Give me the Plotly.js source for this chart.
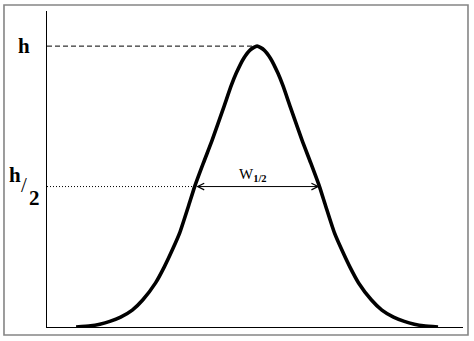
<!DOCTYPE html>
<html>
<head>
<meta charset="utf-8">
<script src="https://cdn.plot.ly/plotly-3.0.1.min.js"></script>
<style>
  html, body { margin: 0; padding: 0; background: #ffffff; }
  #chart { width: 474px; height: 341px; }
</style>
</head>
<body>
<div id="chart"></div>
<script>
// Peak profile (x in arbitrary units, y in units of the peak height h)
const curveX = [0.70, 1.05, 1.27, 1.51, 1.77, 2.05, 2.30, 2.61, 2.82, 3.03, 3.19, 3.40, 3.55, 3.76, 3.97, 4.25, 4.43, 4.55, 4.73, 4.88, 5.05,
                5.22, 5.37, 5.55, 5.67, 5.85, 6.13, 6.34, 6.55, 6.70, 6.91, 7.07, 7.28, 7.49, 7.80, 8.05, 8.33, 8.59, 8.83, 9.05, 9.40];
const curveY = [0.000, 0.004, 0.010, 0.020, 0.035, 0.060, 0.096, 0.157, 0.214, 0.280, 0.335, 0.430, 0.500, 0.584, 0.665, 0.783, 0.860, 0.904, 0.957, 0.986, 1.000,
                0.986, 0.957, 0.904, 0.860, 0.783, 0.665, 0.584, 0.500, 0.430, 0.335, 0.280, 0.214, 0.157, 0.096, 0.060, 0.035, 0.020, 0.010, 0.004, 0.000];

// Key values
const peakX = [5.05];
const peakH = [1.0];
const halfH = [0.5];
const halfLeft = [3.55];
const halfRight = [6.55];

// Labels
const hLabel = "h";
const slashLabel = "/";
const twoLabel = "2";
const widthLabel = "W<sub><b>1/2</b></sub>";

const serif = "Liberation Serif, Times New Roman, serif";

const traces = [
  {
    x: [0, peakX[0]], y: [peakH[0], peakH[0]],
    mode: "lines", line: {color: "#000", width: 1, dash: "5px,3px"},
    hoverinfo: "skip", showlegend: false
  },
  {
    x: [0, halfLeft[0]], y: [halfH[0], halfH[0]],
    mode: "lines", line: {color: "#000", width: 1, dash: "1px,2px"},
    hoverinfo: "skip", showlegend: false
  },
  {
    x: curveX, y: curveY,
    mode: "lines", line: {color: "#000", width: 3.6, shape: "spline", smoothing: 0.6},
    hoverinfo: "skip", showlegend: false
  }
];

const layout = {
  width: 474, height: 341,
  margin: {l: 47, r: 11, t: 11, b: 14, pad: 0},
  paper_bgcolor: "#ffffff", plot_bgcolor: "#ffffff",
  showlegend: false,
  xaxis: {range: [0, 10], showline: true, linecolor: "#000", linewidth: 1,
          showgrid: false, zeroline: false, showticklabels: false, ticks: "", fixedrange: true},
  yaxis: {range: [0, 1.125], showline: true, linecolor: "#000", linewidth: 1,
          showgrid: false, zeroline: false, showticklabels: false, ticks: "", fixedrange: true},
  shapes: [
    {type: "rect", xref: "paper", yref: "paper", x0: -0.1034, x1: 1.012, y0: -0.0253, y1: 1.019,
     line: {color: "#858585", width: 1.6}, fillcolor: "rgba(0,0,0,0)", layer: "above"}
  ],
  annotations: [
    {xref: "x", yref: "y", x: halfRight[0], y: halfH[0], axref: "x", ayref: "y", ax: halfLeft[0], ay: halfH[0],
     text: "", showarrow: true, arrowside: "end+start", arrowhead: 5, arrowsize: 1.3, arrowwidth: 1,
     arrowcolor: "#000", standoff: 0, startstandoff: 0},
    {xref: "x", yref: "y", x: (halfLeft[0] + halfRight[0]) / 2, y: halfH[0], xshift: -4, yshift: 1,
     xanchor: "center", yanchor: "bottom", text: widthLabel, showarrow: false,
     font: {family: serif, size: 15, color: "#000"}},
    {xref: "paper", yref: "y", x: 0, y: peakH[0], xshift: -23, yshift: 0,
     xanchor: "center", yanchor: "middle", text: "<b>" + hLabel + "</b>", showarrow: false,
     font: {family: serif, size: 21, color: "#000"}},
    {xref: "paper", yref: "y", x: 0, y: halfH[0], xshift: -32, yshift: 12,
     xanchor: "center", yanchor: "middle", text: "<b>" + hLabel + "</b>", showarrow: false,
     font: {family: serif, size: 21, color: "#000"}},
    {xref: "paper", yref: "y", x: 0, y: halfH[0], xshift: -23.5, yshift: 2,
     xanchor: "center", yanchor: "middle", text: slashLabel, showarrow: false,
     font: {family: serif, size: 21, color: "#000"}},
    {xref: "paper", yref: "y", x: 0, y: halfH[0], xshift: -13, yshift: -11,
     xanchor: "center", yanchor: "middle", text: "<b>" + twoLabel + "</b>", showarrow: false,
     font: {family: serif, size: 21, color: "#000"}}
  ]
};

Plotly.newPlot("chart", traces, layout, {staticPlot: true, displayModeBar: false});
</script>
</body>
</html>
